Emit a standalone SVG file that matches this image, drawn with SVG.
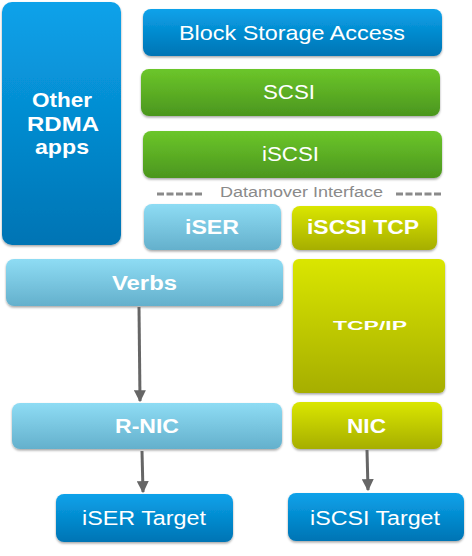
<svg xmlns="http://www.w3.org/2000/svg" width="472" height="556" viewBox="0 0 472 556">
<defs>
<linearGradient id="gBlue" x1="0" y1="0" x2="0" y2="1"><stop offset="0" stop-color="#0aa2ea"/><stop offset="1" stop-color="#0074b4"/></linearGradient>
<linearGradient id="gGreen" x1="0" y1="0" x2="0" y2="1"><stop offset="0" stop-color="#6cc62a"/><stop offset="1" stop-color="#4b961e"/></linearGradient>
<linearGradient id="gLight" x1="0" y1="0" x2="0" y2="1"><stop offset="0" stop-color="#8edcf4"/><stop offset="1" stop-color="#64b0cc"/></linearGradient>
<linearGradient id="gYel" x1="0" y1="0" x2="0" y2="1"><stop offset="0" stop-color="#dae600"/><stop offset="1" stop-color="#a6ae00"/></linearGradient>
<filter id="sh" x="-10%" y="-10%" width="120%" height="130%"><feDropShadow dx="0" dy="1.5" stdDeviation="1.2" flood-color="#000" flood-opacity="0.35"/></filter>
<marker id="ah" viewBox="0 0 10 10" refX="9" refY="5" markerWidth="4" markerHeight="4" orient="auto"><path d="M0,0 L10,5 L0,10 z" fill="#666"/></marker>
</defs>
<style>
.box{filter:url(#sh);}
.t{font-family:"Liberation Sans",Arial,sans-serif;fill:#fff;text-anchor:middle;}
.b{font-weight:bold;}
.conn{stroke:#666;stroke-width:3;fill:none;marker-end:url(#ah);}
.dash{stroke:#8a8a8a;stroke-width:3;stroke-dasharray:7,2.5;}
</style>
<g id="other-rdma"><rect class="box" x="2" y="2" width="119" height="243" rx="10" fill="url(#gBlue)"/><text class="t b" x="62" y="107" font-size="21" textLength="60" lengthAdjust="spacingAndGlyphs">Other</text><text class="t b" x="63" y="131" font-size="21" textLength="72" lengthAdjust="spacingAndGlyphs">RDMA</text><text class="t b" x="62" y="154" font-size="21" textLength="54" lengthAdjust="spacingAndGlyphs">apps</text></g>
<g id="block-storage"><rect class="box" x="143" y="9" width="299" height="47" rx="8" fill="url(#gBlue)"/><text class="t" x="292" y="40" font-size="21" textLength="226" lengthAdjust="spacingAndGlyphs">Block Storage Access</text></g>
<g id="scsi"><rect class="box" x="141" y="69" width="299" height="47" rx="8" fill="url(#gGreen)"/><text class="t" x="289" y="99" font-size="20" textLength="52" lengthAdjust="spacingAndGlyphs">SCSI</text></g>
<g id="iscsi"><rect class="box" x="143" y="131" width="299" height="47" rx="8" fill="url(#gGreen)"/><text class="t" x="290.5" y="161" font-size="20" textLength="57" lengthAdjust="spacingAndGlyphs">iSCSI</text></g>
<g id="datamover"><line class="dash" x1="157" y1="194" x2="204" y2="194"/><text x="301.5" y="197" font-family="Liberation Sans,Arial,sans-serif" font-size="14" fill="#8a8a8a" text-anchor="middle" textLength="163" lengthAdjust="spacingAndGlyphs">Datamover Interface</text><line class="dash" x1="396" y1="194" x2="443" y2="194"/></g>
<g id="iser"><rect class="box" x="144" y="204" width="137" height="46" rx="8" fill="url(#gLight)"/><text class="t b" x="212" y="234" font-size="20" textLength="54" lengthAdjust="spacingAndGlyphs">iSER</text></g>
<g id="iscsi-tcp"><rect class="box" x="292" y="206" width="145" height="44" rx="8" fill="url(#gYel)"/><text class="t b" x="363" y="234" font-size="20" textLength="112" lengthAdjust="spacingAndGlyphs">iSCSI TCP</text></g>
<g id="verbs"><rect class="box" x="6" y="259" width="277" height="47" rx="8" fill="url(#gLight)"/><text class="t b" x="144.5" y="290" font-size="20" textLength="65" lengthAdjust="spacingAndGlyphs">Verbs</text></g>
<g id="tcpip"><rect class="box" x="293" y="259" width="152" height="134" rx="6" fill="url(#gYel)"/><text class="t b" x="370" y="330" font-size="12.5" textLength="74" lengthAdjust="spacingAndGlyphs">TCP/IP</text></g>
<g id="rnic"><rect class="box" x="12" y="403" width="270" height="46" rx="8" fill="url(#gLight)"/><text class="t b" x="147" y="433" font-size="20" textLength="64" lengthAdjust="spacingAndGlyphs">R-NIC</text></g>
<g id="nic"><rect class="box" x="292" y="402" width="150" height="47" rx="8" fill="url(#gYel)"/><text class="t b" x="366.5" y="433" font-size="20" textLength="39" lengthAdjust="spacingAndGlyphs">NIC</text></g>
<g id="iser-target"><rect class="box" x="56" y="494" width="177" height="48" rx="8" fill="url(#gBlue)"/><text class="t" x="144" y="525" font-size="20" textLength="124" lengthAdjust="spacingAndGlyphs">iSER Target</text></g>
<g id="iscsi-target"><rect class="box" x="288" y="493" width="176" height="48" rx="8" fill="url(#gBlue)"/><text class="t" x="375" y="525" font-size="20" textLength="130" lengthAdjust="spacingAndGlyphs">iSCSI Target</text></g>
<g id="connectors">
<line class="conn" x1="139" y1="307" x2="140" y2="401"/>
<line class="conn" x1="142" y1="451" x2="143" y2="492"/>
<line class="conn" x1="367" y1="450" x2="368" y2="490"/>
</g>
</svg>
